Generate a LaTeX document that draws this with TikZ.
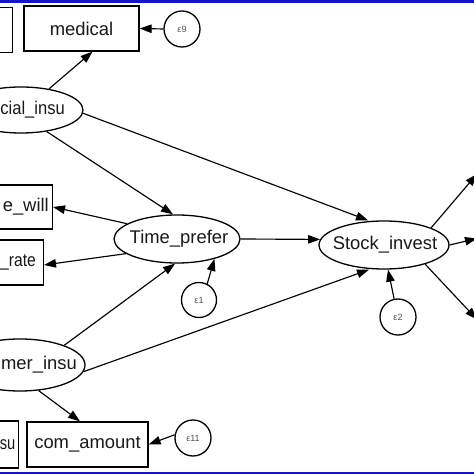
\documentclass[tikz,border=0pt]{standalone}
\usepackage{fontspec}
\setmainfont{Liberation Sans}
\usetikzlibrary{shapes.geometric,arrows.meta,calc}
\definecolor{bandblue}{RGB}{20,20,200}
\definecolor{txt}{RGB}{25,25,25}
\definecolor{eps}{RGB}{80,80,80}
\tikzset{
  lbl/.style={font=\fontsize{18.4}{20}\selectfont, text=txt, inner sep=0pt},
  obsbox/.style={draw=black, line width=1.3pt, rectangle, inner sep=0pt, minimum height=45pt},
  latent/.style={draw=black, line width=1.3pt, ellipse, inner sep=0pt},
  errc/.style={draw=black, line width=1.3pt, circle, inner sep=0pt, minimum size=36pt,
    font=\fontsize{9}{10}\selectfont, text=eps},
  path1/.style={line width=1.15pt, -{Triangle[length=12pt,width=8.5pt]}}
}
\begin{document}
\begin{tikzpicture}[x=1pt,y=1pt]
\useasboundingbox (0,0) rectangle (474,474);
\fill[white] (0,0) rectangle (474,474);
\clip (0,0) rectangle (474,474);

% observed boxes
\node[obsbox, minimum width=100pt, anchor=east] (tl) at (13,444) {};
\node[obsbox, minimum width=115pt] (med) at (81.5,445.5) {};
\node[lbl] (medt) at (med.center) {medical};
\node[obsbox, minimum width=100pt, minimum height=44pt, anchor=east] (will) at (53,267) {};
\node[lbl, anchor=east] (willt) at ($(will.east)+(-4,0)$) {e\_will};
\node[obsbox, minimum width=100pt, anchor=east] (rate) at (44,211.5) {};
\node[lbl, anchor=east, xscale=0.85] (ratet) at ($(rate.east)+(-8,0)$) {\_rate};
\node[obsbox, minimum width=100pt, minimum height=47pt, anchor=east] (su) at (19,29.5) {};
\node[lbl, anchor=east, xscale=0.8] (sut) at ($(su.east)+(-3.5,0)$) {su};
\node[obsbox, minimum width=121pt] (com) at (87.5,29.5) {};
\node[lbl] (comt) at (com.center) {com\_amount};

% latent ellipses
\node[latent, minimum width=124pt, minimum height=46pt] (soc) at (21,364) {};
\node[lbl, anchor=east, xscale=0.9] (soct) at (65,364) {cial\_insu};
\node[latent, minimum width=126pt, minimum height=48pt] (time) at (177,235) {};
\node[lbl] (timet) at (179,235) {Time\_prefer};
\node[latent, minimum width=130pt, minimum height=48pt] (stock) at (384,229) {};
\node[lbl] (stockt) at (385,229) {Stock\_invest};
\node[latent, minimum width=130pt, minimum height=52pt] (form) at (20,109) {};
\node[lbl, anchor=east] (formt) at (77,109) {mer\_insu};

% error circles
\node[errc] (e9) at (182,445) {ε9};
\node[errc, minimum size=35pt] (e1) at (199,174) {ε1};
\node[errc] (e2) at (398,157) {ε2};
\node[errc] (e11) at (193,36) {ε11};

% off-canvas targets
\coordinate (r1) at (477,300);
\coordinate (r2) at (477,235.5);
\coordinate (r3) at (477,154.5);

% paths
\draw[path1] (e9.west) -- (med.east);
\draw[path1] (soc.37) -- ($(med.south)+(11,0)$);
\draw[path1] (soc.-3) -- ($(stock.north)+(-16,0)$);
\draw[path1] (soc.-40) -- ($(time.north)+(-4,0)$);
\draw[path1] (time.163.5) -- (will.east);
\draw[path1] (time.196.5) -- ($(rate.east)+(0,-2.5)$);
\draw[path1] (time.east) -- (stock.175);
\draw[path1] (e1.63) -- (time.-28);
\draw[path1] (form.24) -- ($(time.south)+(-2,0)$);
\draw[path1] (form.-6) -- ($(stock.south)+(-15,0)$);
\draw[path1] (form.-54) -- ($(com.north)+(-7.5,0)$);
\draw[path1] (e11.170) -- (com.east);
\draw[path1] (e2.102) -- ($(stock.south)+(4,0)$);
\draw[path1] (stock.20) -- (r1);
\draw[path1] (stock.east) -- (r2);
\draw[path1] (stock.-25) -- (r3);

% blue bands
\fill[bandblue] (0,471.3) rectangle (474,474);
\fill[bandblue] (0,0) rectangle (474,2.3);
\end{tikzpicture}
\end{document}
